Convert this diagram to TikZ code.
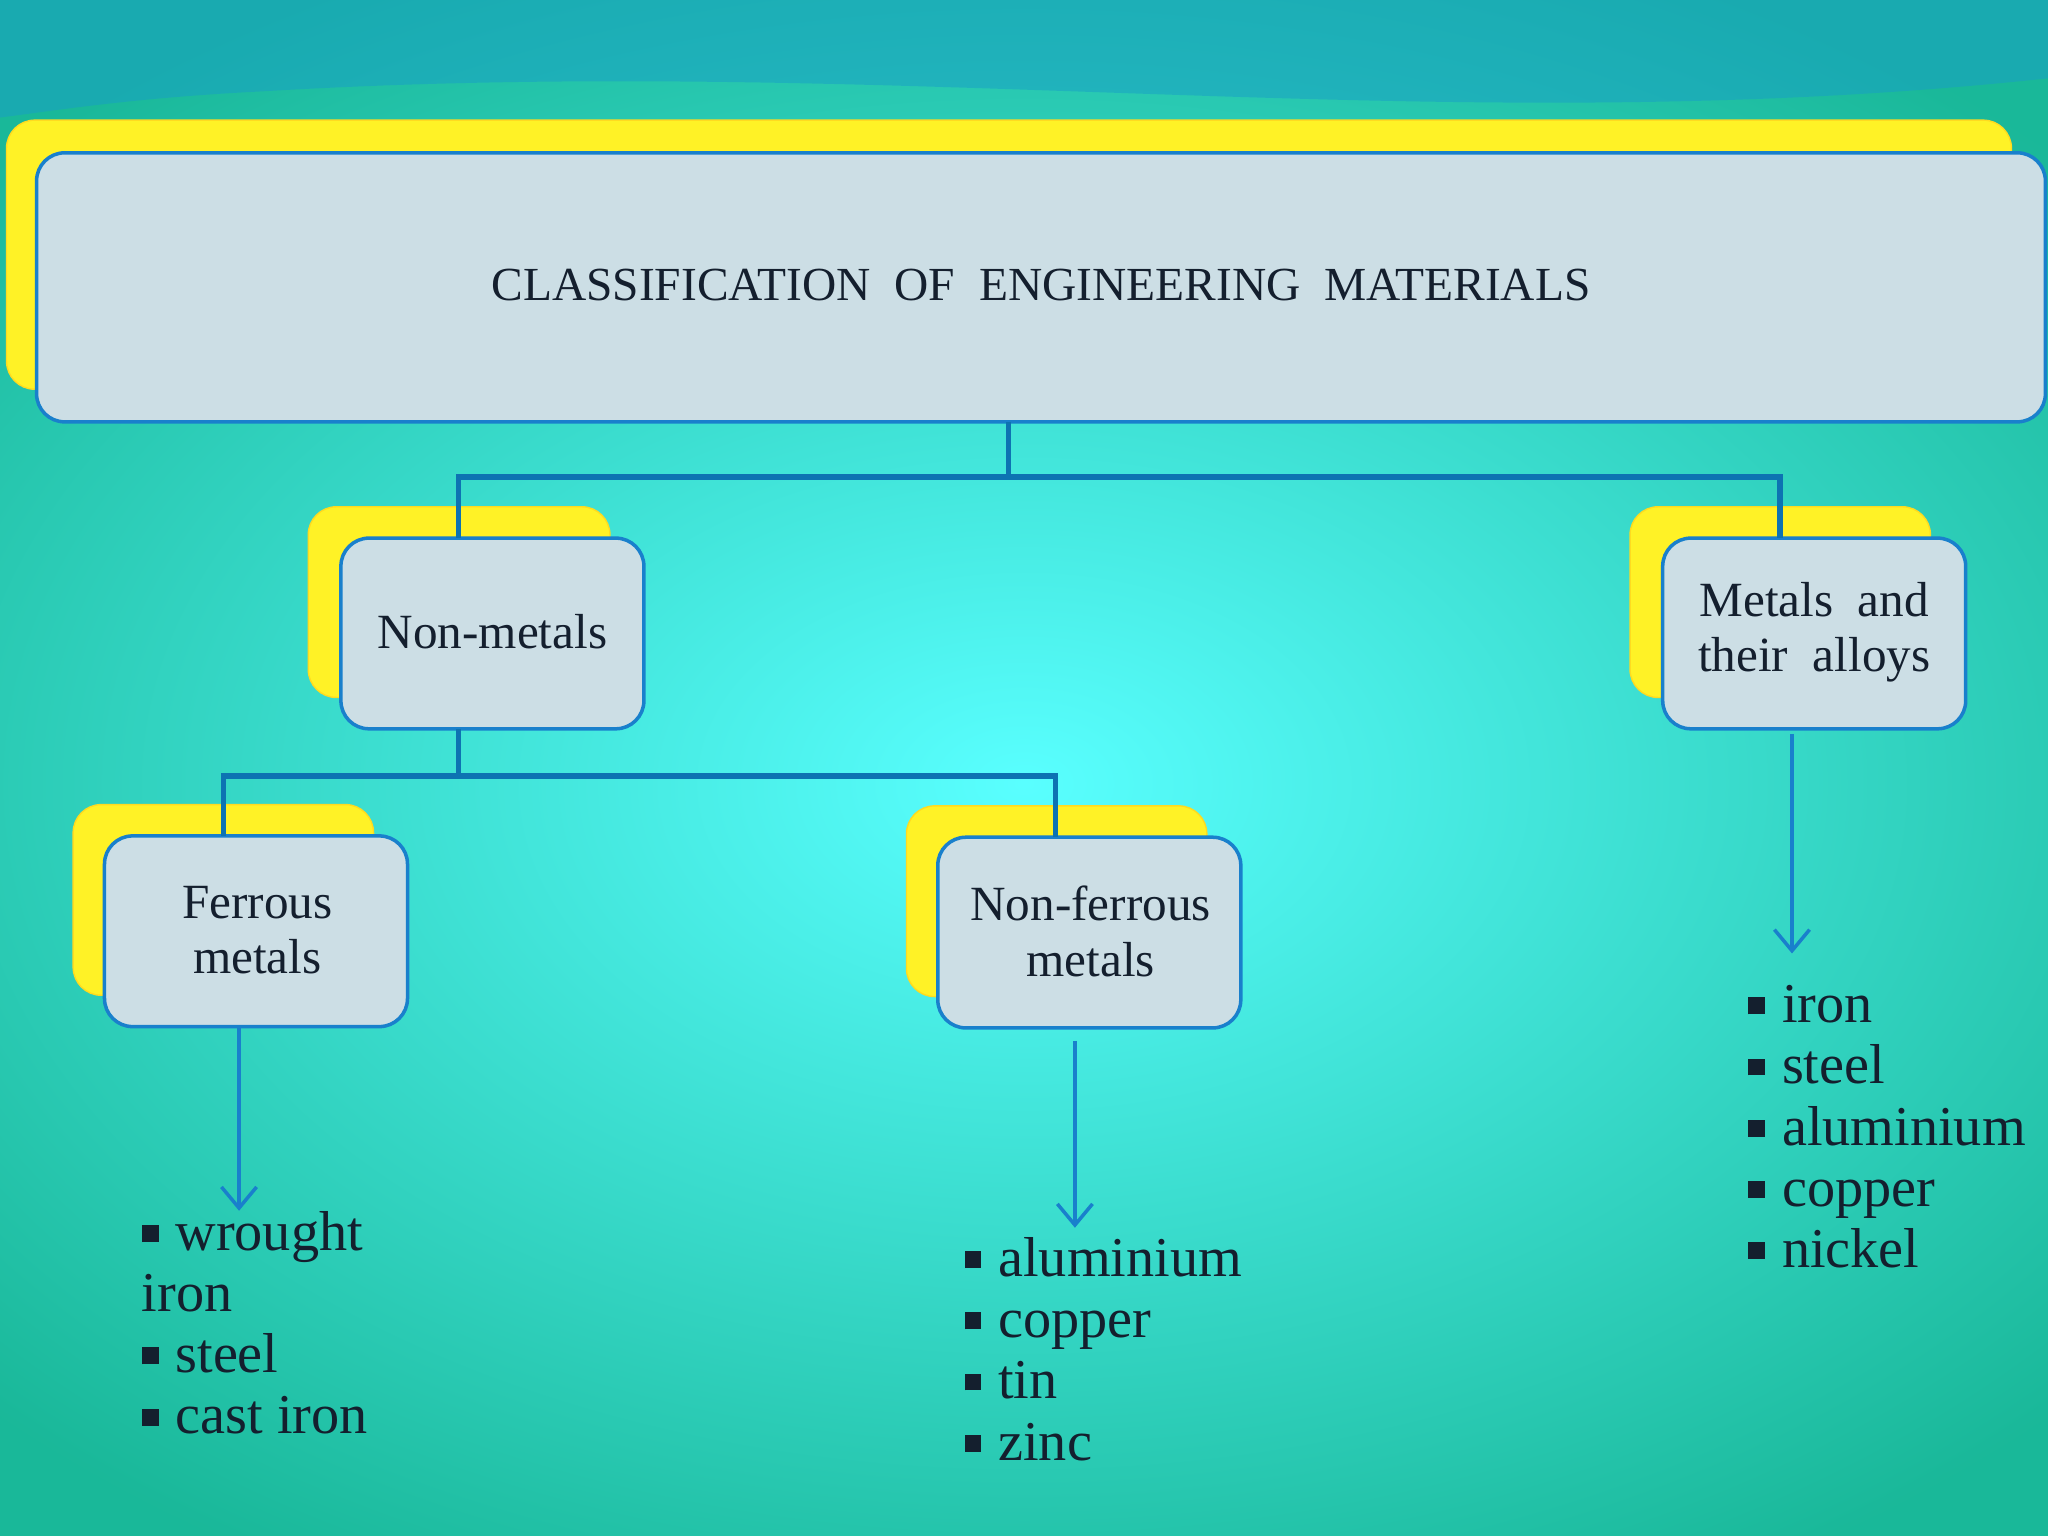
\documentclass[tikz,border=0pt]{standalone}
\usepackage{fontspec}
\setmainfont{Liberation Serif}
\usetikzlibrary{arrows.meta}
\definecolor{boxfill}{rgb}{0.80,0.87,0.90}
\definecolor{boxline}{rgb}{0.10,0.50,0.80}
\definecolor{conn}{rgb}{0.05,0.45,0.70}
\definecolor{ylw}{rgb}{1.0,0.95,0.15}
\definecolor{txt}{rgb}{0.08,0.12,0.18}
\tikzset{
  x=0.013061cm,y=-0.013061cm,
  shadowbox/.style={fill=ylw,draw=ylw!80!orange,rounded corners=8pt},
  mainbox/.style={fill=boxfill,draw=boxline,line width=1pt,rounded corners=8pt},
  lbl/.style={text=txt,font=\fontsize{14}{15.8}\selectfont,align=center},
  conn/.style={draw=conn,line width=1.6pt},
  arr/.style={draw=boxline,line width=1pt,-{Straight Barb[length=6pt,width=10pt]}},
  list/.style={text=txt,font=\fontsize{16}{17.4}\selectfont,align=left,anchor=north west,inner sep=0pt}
}
\newcommand{\bul}{\rule[0.15em]{0.3em}{0.3em}\hspace{0.3em}}
\begin{document}
\begin{tikzpicture}
\useasboundingbox (0,0) rectangle (1568,1176);
\shade[inner color={rgb,1:red,0.35;green,1;blue,1},outer color={rgb,1:red,0.1;green,0.72;blue,0.6}] (-300,-100) rectangle (1868,1300);
\fill[color={rgb,1:red,0.1;green,0.62;blue,0.78},opacity=0.5] (0,0) -- (1568,0) -- (1568,60) .. controls (1100,110) and (700,40) .. (200,70) .. controls (100,75) and (40,85) .. (0,90) -- cycle;
% boxes
\draw[shadowbox] (5,92) rectangle (1540,298);
\draw[mainbox] (28,117) rectangle (1566,323);
\coordinate (tb) at (772,323);
\node[text=txt,font=\fontsize{13.5}{16}\selectfont] (tt) at (797,218) {CLASSIFICATION\ \ OF\ \ ENGINEERING\ \ MATERIALS};

\draw[shadowbox] (236,388) rectangle (467,534);
\draw[mainbox] (261,412) rectangle (493,558);
\node[lbl] (nm) at (377,484) {Non-metals};

\draw[shadowbox] (1248,388) rectangle (1478,534);
\draw[mainbox] (1273,412) rectangle (1505,558);
\node[lbl] (ma) at (1389,484) {Metals\ \ and\\their\ \ alloys};

\draw[shadowbox] (56,616) rectangle (286,762);
\draw[mainbox] (80,640) rectangle (312,786);
\node[lbl] (fe) at (197,712) {Ferrous\\metals};

\draw[shadowbox] (694,617) rectangle (924,763);
\draw[mainbox] (718,641) rectangle (950,787);
\node[lbl] (nf) at (835,713) {Non-ferrous\\metals};

% connectors
\coordinate (j1) at (772,365);
\coordinate (nmt) at (351,412);
\coordinate (mat) at (1363,412);
\draw[conn] (tb) -- (j1) -| (nmt);
\draw[conn] (j1) -| (mat);
\coordinate (nmb) at (351,558);
\coordinate (j2) at (351,594);
\coordinate (fet) at (171,640);
\coordinate (nft) at (808,641);
\draw[conn] (nmb) -- (j2) -| (fet);
\draw[conn] (j2) -| (nft);

\coordinate (a1s) at (183,786); \coordinate (a1e) at (183,927);
\coordinate (a2s) at (823,797); \coordinate (a2e) at (823,940);
\coordinate (a3s) at (1372,562); \coordinate (a3e) at (1372,730);
\draw[arr] (a1s) -- (a1e);
\draw[arr] (a2s) -- (a2e);
\draw[arr] (a3s) -- (a3e);

% lists
\node[list] (l1) at (108,927) {\bul wrought\\iron\\\bul steel\\\bul cast iron};
\node[list] (l2) at (738,947) {\bul aluminium\\\bul copper\\\bul tin\\\bul zinc};
\node[list] (l3) at (1338,754) {\bul iron\\\bul steel\\\bul aluminium\\\bul copper\\\bul nickel};
\end{tikzpicture}
\end{document}
